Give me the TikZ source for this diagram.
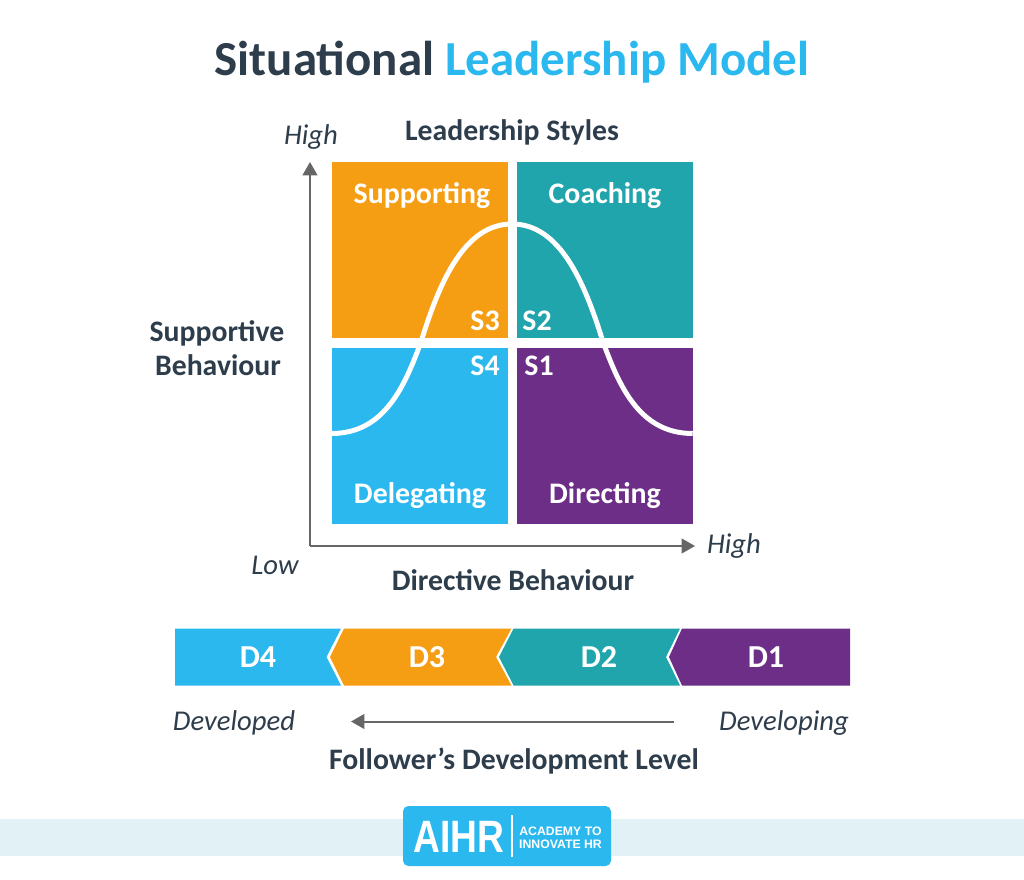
\documentclass[tikz,border=0pt]{standalone}
\usepackage{fontspec}
\setmainfont{Carlito}
\usetikzlibrary{arrows.meta}
\definecolor{inkdark}{HTML}{2E3D4B}
\definecolor{axisgray}{HTML}{666666}
\definecolor{skyblue}{HTML}{2BB8EE}
\definecolor{amber}{HTML}{F59E14}
\definecolor{tealgreen}{HTML}{20A5AC}
\definecolor{plum}{HTML}{6D2E87}
\definecolor{paleband}{HTML}{E2F1F6}
\tikzset{
 heading/.style={anchor=base,inkdark,font=\bfseries\fontsize{22.3}{24}\selectfont,inner sep=0},
 axislabel/.style={anchor=base,inkdark,font=\itshape\fontsize{21.5}{24}\selectfont,inner sep=0},
 quadlabel/.style={anchor=base,white,font=\bfseries\fontsize{22.4}{25}\selectfont,inner sep=0},
 barlabel/.style={quadlabel,font=\bfseries\fontsize{24}{25}\selectfont},
 logotext/.style={anchor=base,white,font=\fontspec{Liberation Sans}\bfseries\fontsize{9.2}{11}\selectfont,inner sep=0},
 quad/.style={minimum width=132pt,minimum height=132pt,inner sep=0,anchor=north west},
 axisline/.style={axisgray,line width=1.5pt,-{Triangle[length=10pt,width=11pt]}},
}
\begin{document}
\begin{tikzpicture}[x=0.75pt,y=-0.75pt]
\useasboundingbox (0,0) rectangle (1024,880);
\node[heading,font=\bfseries\fontsize{36.7}{40}\selectfont] (title) at (512,75.5) {Situational \textcolor{skyblue}{Leadership Model}};
\node[heading] (styles) at (512,141) {Leadership Styles};
\node[axislabel] (yhigh) at (311,145) {High};
\foreach \name/\col/\qx/\qy in {supporting/amber/331.7/162,coaching/tealgreen/516.7/162,delegating/skyblue/331.7/347.3,directing/plum/516.7/347.3}
 \node[quad,fill=\col] (\name) at (\qx,\qy) {};
\draw[white,line width=3.7pt] (331.7,433.5) .. controls (385,433.5) and (405,385) .. (421,342) .. controls (440,280) and (465,224) .. (512,224) .. controls (559,224) and (584,280) .. (603,342) .. controls (619,385) and (639,433.5) .. (692.7,433.5);
\node[quadlabel] (lsupporting) at (422,204) {Supporting};
\node[quadlabel] (lcoaching) at (605,204) {Coaching};
\node[quadlabel] (ldelegating) at (420,503) {Delegating};
\node[quadlabel] (ldirecting) at (605,503) {Directing};
\node[quadlabel] (s3) at (485,331) {S3};
\node[quadlabel] (s2) at (537,331) {S2};
\node[quadlabel] (s4) at (485,375) {S4};
\node[quadlabel] (s1) at (539,375) {S1};
\coordinate (origin) at (310,546);
\coordinate (ytip) at (310,162);
\coordinate (xtip) at (695,546);
\draw[axisline] (origin) -- (ytip);
\draw[axisline] (origin) -- (xtip);
\node[heading] (supportive) at (217,342) {Supportive};
\node[heading] (behaviour) at (218,375) {Behaviour};
\node[axislabel] (low) at (275,574) {Low};
\node[axislabel] (xhigh) at (734,553) {High};
\node[heading] (directive) at (513,590) {Directive Behaviour};
\fill[skyblue] (175,628.5) -- (341,628.5) -- (326.5,657) -- (341,685.5) -- (175,685.5) -- cycle;
\fill[amber] (344,628.5) -- (511.5,628.5) -- (496,657) -- (511.5,685.5) -- (344,685.5) -- (330,657) -- cycle;
\fill[tealgreen] (513.6,628.5) -- (680,628.5) -- (666,657) -- (680,685.5) -- (513.6,685.5) -- (499,657) -- cycle;
\fill[plum] (682,628.5) -- (850,628.5) -- (850,685.5) -- (682,685.5) -- (669,657) -- cycle;
\node[barlabel] (d4) at (258,667.5) {D4};
\node[barlabel] (d3) at (427,667.5) {D3};
\node[barlabel] (d2) at (599,667.5) {D2};
\node[barlabel] (d1) at (766,667.5) {D1};
\node[axislabel] (developed) at (234,730) {Developed};
\node[axislabel] (developing) at (784,730) {Developing};
\coordinate (devstart) at (674,721.5);
\coordinate (devend) at (351,721.5);
\draw[axisline] (devstart) -- (devend);
\node[heading] (follower) at (514,769) {Follower’s Development Level};
\fill[paleband] (0,819) rectangle (1024,856);
\node[fill=skyblue,rounded corners=4pt,minimum width=156pt,minimum height=45pt,inner sep=0] (logo) at (507,836) {};
\node[anchor=base,white,font=\fontspec{Liberation Sans}\bfseries\fontsize{34}{36}\selectfont,inner sep=0,xscale=.82] (aihr) at (459,852) {AIHR};
\coordinate (rulea) at (512,815);
\coordinate (ruleb) at (512,857);
\draw[white,line width=1.2pt] (rulea) -- (ruleb);
\node[logotext] (academy) at (560.5,835.5) {ACADEMY TO};
\node[logotext] (innovate) at (560.5,848.5) {INNOVATE HR};
\end{tikzpicture}
\end{document}
